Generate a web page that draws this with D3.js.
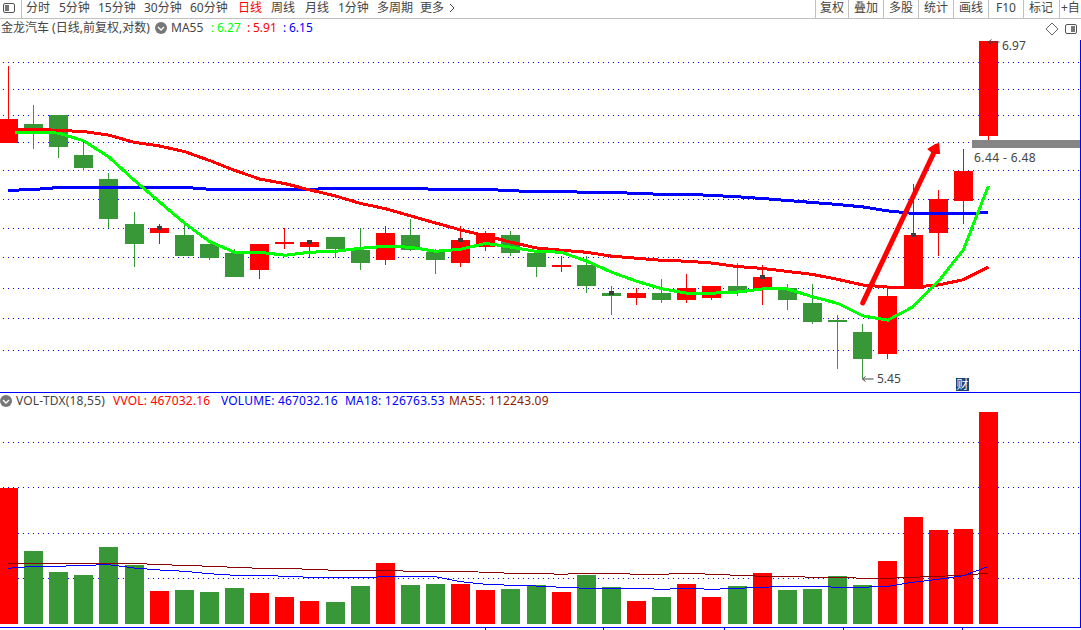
<!DOCTYPE html>
<html><head><meta charset="utf-8">
<script src="https://cdn.jsdelivr.net/npm/d3@7/dist/d3.min.js"></script>
<style>
html,body{margin:0;padding:0;background:#fff;overflow:hidden}
svg{display:block}
text{font-family:"Noto Sans","Noto Sans CJK SC",sans-serif;font-size:12px;dominant-baseline:central}
</style></head><body>
<svg id="c" width="1081" height="630"></svg>
<script>
// ---------- data ----------
const opens  = [6.470,6.560,6.603,6.414,6.302,6.098,6.059,6.050,6.010,5.971,5.897,6.010,5.997,6.041,5.984,5.940,6.050,5.975,5.927,5.997,6.050,5.971,5.910,5.919,5.799,5.778,5.799,5.769,5.778,5.829,5.816,5.820,5.757,5.686,5.636,5.546,5.816,6.059,6.202,6.503];
const closes = [6.584,6.527,6.451,6.353,6.121,6.010,6.081,5.958,5.949,5.867,6.010,6.019,6.019,5.988,5.927,6.059,5.984,5.940,6.028,6.059,5.971,5.910,5.919,5.829,5.786,5.799,5.769,5.820,5.829,5.799,5.867,5.769,5.677,5.677,5.526,5.786,6.050,6.211,6.339,6.970];
const highs  = [6.844,6.652,6.603,6.470,6.330,6.152,6.098,6.094,6.010,5.988,6.010,6.081,6.019,6.041,6.081,6.090,6.121,5.988,6.090,6.067,6.067,5.971,5.958,5.958,5.829,5.820,5.858,5.880,5.829,5.927,5.919,5.837,5.837,5.707,5.669,5.820,6.281,6.252,6.442,6.970];
const lows   = [6.470,6.442,6.399,6.339,6.081,5.910,6.010,5.958,5.940,5.867,5.858,5.988,5.949,5.949,5.897,5.919,5.979,5.880,5.910,5.979,5.958,5.867,5.889,5.799,5.707,5.748,5.757,5.757,5.769,5.786,5.748,5.727,5.669,5.486,5.450,5.526,5.816,5.958,6.098,6.484];
const maGreen = [6.522,6.520,6.517,6.480,6.404,6.297,6.199,6.103,6.021,5.974,5.974,5.961,5.974,5.978,5.991,6.000,5.996,5.978,5.987,6.013,5.996,5.978,5.974,5.936,5.888,5.849,5.817,5.798,5.798,5.803,5.816,5.816,5.783,5.755,5.703,5.685,5.741,5.847,5.984,6.270];
const maRed   = [6.532,6.535,6.530,6.524,6.507,6.473,6.456,6.430,6.388,6.342,6.302,6.281,6.252,6.225,6.191,6.167,6.135,6.103,6.072,6.046,6.018,5.993,5.983,5.974,5.957,5.948,5.939,5.935,5.927,5.912,5.904,5.891,5.878,5.857,5.833,5.824,5.824,5.833,5.855,5.910];
const maBlue  = [6.250,6.254,6.263,6.264,6.264,6.264,6.264,6.264,6.255,6.255,6.255,6.255,6.255,6.259,6.259,6.259,6.259,6.255,6.255,6.255,6.248,6.245,6.245,6.241,6.241,6.236,6.232,6.232,6.227,6.221,6.213,6.204,6.195,6.186,6.175,6.157,6.146,6.144,6.144,6.150];
const volumes = [299600,160800,114600,108000,169600,130000,72700,74900,70500,79300,68300,59500,50700,48500,83700,134400,85900,88100,88100,74900,77100,85900,70500,108000,81500,50700,59500,88100,59500,83700,112400,74900,77100,105700,85900,138800,235700,207100,209300,467032];
const volMa18 = [122700,127100,127100,129300,130600,123400,119000,116100,110800,107300,107300,105100,102900,102000,102000,104200,104200,104200,93200,87500,85300,83700,80900,78600,78600,78600,76400,78600,76400,78600,80900,83100,83100,80900,80900,83100,91900,98500,106400,126763];
const volMa55 = [133700,133700,133700,133700,133700,133700,130600,129300,127100,124900,122700,122700,120500,118300,118300,118300,116100,116100,116100,113900,111700,111700,109500,111700,111700,109500,109500,111700,109500,107300,105100,105100,102900,102900,100700,100700,102900,105100,107300,112243];
const priceTicks = [5.56,5.69,5.82,5.95,6.08,6.21,6.34,6.47,6.60,6.73,6.86];
const volTicks = [100000,200000,300000,400000];
const dateTickIdx = [19,23.7,28.48,33.22,37.96];
const markerIdx = [6,12,18,24,30,36];
const pressureBand = [6.44,6.48];
const trendIdx = [34,37];
const trendPrice = [5.757,6.47];
const toolbarLeft = ["分时","5分钟","15分钟","30分钟","60分钟","日线","周线","月线","1分钟","多周期","更多"];
const toolbarRight = ["复权","叠加","多股","统计","画线","F10","标记","+自"];

// ---------- scales ----------
const x = d3.scaleLinear().domain([0,39]).range([8.4,988.4]);
const y = d3.scaleLog().domain([5.45,6.97]).range([378,41]);
const yv = d3.scaleLinear().domain([0,467032]).range([624,412]);
const svg = d3.select("#c");
const idx = d3.range(opens.length);
const RED="#ff0000", GREEN="#389838", LIME="#00ff00", BLUE="#0000ff", TXT="#444444";
const isUp = i => closes[i] >= opens[i];
const col = i => isUp(i) ? RED : GREEN;
const px = v => Math.floor(v)+0.5;

// ---------- chrome ----------
svg.append("line").attr("x1",0).attr("x2",1081).attr("y1",18.5).attr("y2",18.5).attr("stroke","#c0c0c0").attr("shape-rendering","crispEdges");
svg.append("line").attr("x1",21.5).attr("x2",21.5).attr("y1",0).attr("y2",18).attr("stroke","#c0c0c0").attr("shape-rendering","crispEdges");
function panelIcon(g,x0,y0){
  g.append("rect").attr("x",x0+.5).attr("y",y0+.5).attr("width",11).attr("height",9).attr("rx",1.5).attr("fill","#fff").attr("stroke","#555").attr("stroke-width",1);
}
panelIcon(svg,3,3);
svg.append("rect").attr("x",5).attr("y",5).attr("width",4).attr("height",6).attr("fill","#777");
const leftX=[26,59,98,144,190,238,271,305,338,377,420];
svg.selectAll("text.tl").data(toolbarLeft).join("text").attr("class","tl")
  .attr("x",(d,i)=>leftX[i]).attr("y",7.5).attr("fill",d=>d==="日线"?RED:TXT).text(d=>d);
svg.append("path").attr("d","M450,4 L454,8 L450,12").attr("fill","none").attr("stroke",TXT);
const rightX=[820,854,889,924,959,996,1029,1061], sepX=[815,848,883,918,953,988,1023,1059];
svg.selectAll("text.tr").data(toolbarRight).join("text").attr("class","tr")
  .attr("x",(d,i)=>rightX[i]).attr("y",7.5).attr("fill",TXT).text(d=>d);
svg.selectAll("line.sep").data(sepX).join("line").attr("class","sep")
  .attr("x1",d=>d+.5).attr("x2",d=>d+.5).attr("y1",0).attr("y2",18).attr("stroke","#c0c0c0").attr("shape-rendering","crispEdges");

// title row
svg.append("text").attr("x",1).attr("y",27.5).attr("fill",TXT).text("金龙汽车 (日线,前复权,对数)");
function dropIcon(cx,cy){
  svg.append("circle").attr("cx",cx).attr("cy",cy).attr("r",6).attr("fill","#777");
  svg.append("path").attr("d",`M${cx-3},${cy-1} L${cx},${cy+2} L${cx+3},${cy-1}`).attr("fill","none").attr("stroke","#fff").attr("stroke-width",1.3);
}
dropIcon(161,28);
svg.append("text").attr("x",171).attr("y",27.5).attr("fill",TXT).text("MA55");
[[211,": 6.27",LIME],[247,": 5.91",RED],[283,": 6.15",BLUE]].forEach(([tx,s,c])=>{
  const parts=s.split(" ");
  svg.append("text").attr("x",tx).attr("y",27.5).attr("fill",c).text(parts[0]);
  svg.append("text").attr("x",tx+6).attr("y",27.5).attr("fill",c).text(parts[1]);
});
svg.append("path").attr("d","M1052,23 L1058,29 L1052,35 L1046,29 Z").attr("fill","#fff").attr("stroke","#666");
panelIcon(svg,1065,24);
svg.append("rect").attr("x",1071).attr("y",26).attr("width",4).attr("height",6).attr("fill","#777");

// ---------- grid ----------
const gridLine = (sel,vals,sc)=>sel.selectAll(null).data(vals).join("line")
  .attr("x1",3).attr("x2",1080).attr("y1",d=>Math.floor(sc(d))+.5).attr("y2",d=>Math.floor(sc(d))+.5)
  .attr("stroke",BLUE).attr("stroke-dasharray","1 4").attr("shape-rendering","crispEdges");
gridLine(svg.append("g"),priceTicks,y);
gridLine(svg.append("g"),volTicks,yv);

// ---------- pressure band ----------
svg.append("rect").attr("x",972).attr("width",108).attr("y",Math.floor(y(pressureBand[1]))).attr("height",8).attr("fill","#858585").attr("shape-rendering","crispEdges");
svg.append("text").attr("x",974).attr("y",157.5).attr("fill",TXT).style("letter-spacing","0.4px").text(`${pressureBand[0].toFixed(2)} - ${pressureBand[1].toFixed(2)}`);

// ---------- candles ----------
const cg = svg.append("g").attr("shape-rendering","crispEdges");
cg.selectAll("line.w").data(idx).join("line").attr("class","w")
  .attr("x1",i=>px(x(i))).attr("x2",i=>px(x(i))).attr("y1",i=>y(highs[i])).attr("y2",i=>y(lows[i])).attr("stroke",col);
cg.selectAll("rect.b").data(idx).join("rect").attr("class","b")
  .attr("x",i=>Math.floor(x(i))-9).attr("width",19)
  .attr("y",i=>y(Math.max(opens[i],closes[i])))
  .attr("height",i=>Math.max(1,Math.abs(y(opens[i])-y(closes[i]))))
  .attr("fill",col);
cg.selectAll("rect.m").data(markerIdx).join("rect").attr("class","m")
  .attr("x",i=>Math.floor(x(i))-2).attr("width",5)
  .attr("y",i=>y(Math.max(opens[i],closes[i]))-2).attr("height",4).attr("fill","#3c3c3c");

// ---------- price MAs ----------
svg.append("clipPath").attr("id","maClip").append("rect").attr("x",15).attr("y",0).attr("width",1066).attr("height",392);
const lineP = d3.line().x((d,i)=>x(i)).y(d=>y(d));
svg.append("path").attr("d",lineP(maBlue)).attr("fill","none").attr("stroke",BLUE).attr("stroke-width",3).attr("shape-rendering","crispEdges");
[[maRed,RED],[maGreen,LIME]].forEach(([a,c])=>{
  svg.append("path").attr("d",lineP(a)).attr("clip-path","url(#maClip)").attr("fill","none").attr("stroke",c).attr("stroke-width",3).attr("shape-rendering","crispEdges");
});

// ---------- trend arrow ----------
const ax0=x(trendIdx[0]), ay0=y(trendPrice[0]), ax1=x(trendIdx[1])+1, ay1=y(trendPrice[1]);
svg.append("line").attr("x1",ax0).attr("y1",ay0).attr("x2",ax1-4).attr("y2",ay1+7).attr("stroke",RED).attr("stroke-width",5).attr("stroke-linecap","round");
svg.append("path").attr("d",`M${ax1},${ay1} L${ax1+1},${ay1+11} L${ax1-6},${ay1+11} L${ax1-12},${ay1+6} L${ax1-4},${ay1+1} Z`).attr("fill",RED);

// ---------- extreme labels ----------
function extreme(i,v,tx,ty){
  const ax=px(x(i)), ay=ty;
  svg.append("path").attr("d",`M${ax+11},${ay} L${ax},${ay} M${ax+3},${ay-2.5} L${ax},${ay} L${ax+3},${ay+2.5}`).attr("fill","none").attr("stroke",TXT);
  svg.append("text").attr("x",tx).attr("y",ty+(i===39?4:0)-.5).attr("fill",TXT).text(v.toFixed(2));
}
extreme(39,highs[39],1002,42);
extreme(34,lows[34],877,379);
// event badge
svg.append("rect").attr("x",956).attr("y",378).attr("width",13).attr("height",13).attr("fill","#17467a");
svg.append("text").attr("x",962.5).attr("y",384).attr("text-anchor","middle").attr("fill","#fff").style("font-size","12px").text("财");

// ---------- volume panel ----------
const vg = svg.append("g").attr("shape-rendering","crispEdges");
vg.selectAll("rect").data(idx).join("rect")
  .attr("x",i=>Math.floor(x(i))-9).attr("width",19)
  .attr("y",i=>yv(volumes[i])).attr("height",i=>yv(0)-yv(volumes[i])).attr("fill",col);
const lineV = d3.line().x((d,i)=>x(i)).y(d=>yv(d));
svg.append("path").attr("d",lineV(volMa55)).attr("fill","none").attr("stroke","#8b0000").attr("stroke-width",1).attr("shape-rendering","crispEdges");
svg.append("path").attr("d",lineV(volMa18)).attr("fill","none").attr("stroke",BLUE).attr("stroke-width",1).attr("shape-rendering","crispEdges");

dropIcon(6,401);
[[16,"VOL-TDX(18,55)",TXT],[113,"VVOL: 467032.16",RED],[221,"VOLUME: 467032.16",BLUE],[345,"MA18: 126763.53",BLUE],[449,"MA55: 112243.09","#8b2000"]].forEach(([tx,s,c])=>{
  svg.append("text").attr("x",tx).attr("y",400).attr("fill",c).style("letter-spacing","0.2px").text(s);
});

// ---------- frame ----------
const fr = svg.append("g").attr("stroke",BLUE).attr("shape-rendering","crispEdges");
fr.append("line").attr("x1",0).attr("x2",1081).attr("y1",392.5).attr("y2",392.5);
fr.append("line").attr("x1",0).attr("x2",1081).attr("y1",627.5).attr("y2",627.5);
fr.append("line").attr("x1",1080.5).attr("x2",1080.5).attr("y1",40).attr("y2",628);
fr.selectAll("line.t").data(dateTickIdx).join("line").attr("class","t")
  .attr("x1",d=>px(x(d))).attr("x2",d=>px(x(d))).attr("y1",627).attr("y2",630);
</script>
</body></html>
